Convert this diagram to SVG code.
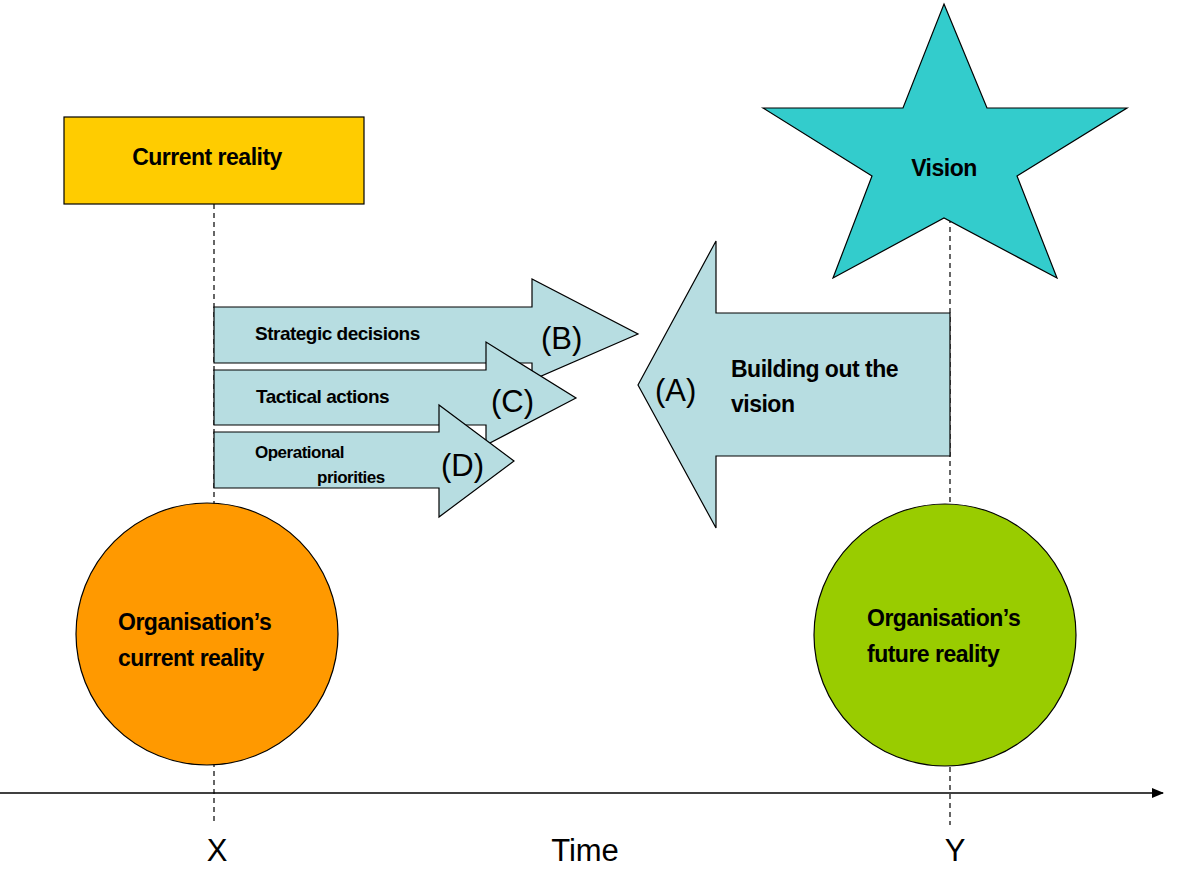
<svg xmlns="http://www.w3.org/2000/svg" width="1178" height="880" viewBox="0 0 1178 880">
<style>
.b{font-family:"Liberation Sans",Arial,sans-serif;font-weight:bold;letter-spacing:-0.5px}
.n{font-family:"Liberation Sans",Arial,sans-serif}
.arr{fill:#b7dde1;stroke:#000;stroke-width:1.2}
.d{stroke:#000;stroke-width:1.2;stroke-dasharray:5,4;fill:none}
</style>
<defs><marker id="m" markerWidth="12" markerHeight="10" refX="11" refY="5" orient="auto" markerUnits="userSpaceOnUse"><path d="M0,0 L12,5 L0,10 z" fill="#000"/></marker></defs>
<rect width="1178" height="880" fill="#fff"/>
<g id="connectors">
<line class="d" x1="214" y1="204" x2="214" y2="825"/>
<line class="d" x1="950" y1="218" x2="950" y2="825"/>
<line x1="0" y1="793" x2="1163" y2="793" stroke="#000" stroke-width="1.5" marker-end="url(#m)"/>
</g>
<g id="current-reality"><rect x="64" y="117" width="300" height="87" fill="#ffcc00" stroke="#000" stroke-width="1.2"/><text class="b" x="207" y="165" font-size="23" text-anchor="middle">Current reality</text></g>
<g id="vision"><polygon points="944,4 987,108 1127,108 1017,176 1057,278 944,218 833,278 872,176 763,108 903,108" fill="#33cccc" stroke="#000" stroke-width="1.2"/><text class="b" x="944" y="176" font-size="23" text-anchor="middle">Vision</text></g>
<g id="arrow-a"><polygon class="arr" points="950,313 716,313 716,241 638,385 716,528 716,456 950,456"/><text class="n" x="655" y="401" font-size="31">(A)</text><text class="b" x="731" y="377" font-size="23">Building out the</text><text class="b" x="731" y="412" font-size="23">vision</text></g>
<g id="arrow-b"><polygon class="arr" points="214,307 532,307 532,279 638,334 532,380 532,363 214,363"/><text class="b" x="255" y="340" font-size="19">Strategic decisions</text><text class="n" x="541" y="349" font-size="31">(B)</text></g>
<g id="arrow-c"><polygon class="arr" points="214,370 486,370 486,342 576,398 486,445 486,425 214,425"/><text class="b" x="256" y="403" font-size="19">Tactical actions</text><text class="n" x="491" y="412" font-size="31">(C)</text></g>
<g id="arrow-d"><polygon class="arr" points="214,432 439,432 439,405 514,461 439,517 439,488 214,488"/><text class="b" x="255" y="458" font-size="17">Operational</text><text class="b" x="317" y="483" font-size="17">priorities</text><text class="n" x="441" y="476" font-size="31">(D)</text></g>
<g id="org-current"><circle cx="207" cy="634" r="131" fill="#ff9900" stroke="#000" stroke-width="1.2"/><text class="b" x="118" y="630" font-size="23">Organisation’s</text><text class="b" x="118" y="666" font-size="23">current reality</text></g>
<g id="org-future"><circle cx="945" cy="635" r="131" fill="#99cc00" stroke="#000" stroke-width="1.2"/><text class="b" x="867" y="626" font-size="23">Organisation’s</text><text class="b" x="867" y="662" font-size="23">future reality</text></g>
<g id="labels"><text class="n" x="217" y="861" font-size="31" text-anchor="middle">X</text><text class="n" x="585" y="861" font-size="31" text-anchor="middle">Time</text><text class="n" x="955" y="861" font-size="31" text-anchor="middle">Y</text></g>
</svg>
